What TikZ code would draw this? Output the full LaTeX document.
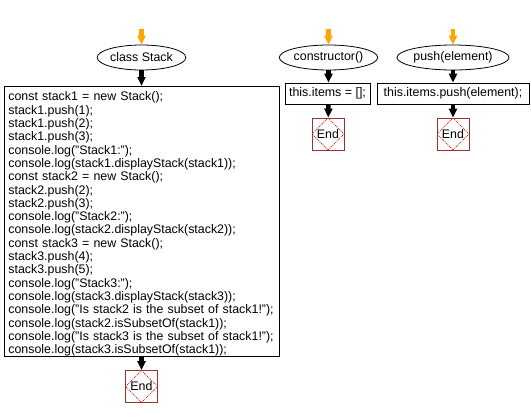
\documentclass[tikz,border=0pt]{standalone}
\usepackage{fontspec}
\setmainfont{Liberation Sans}
\usetikzlibrary{shapes.geometric,arrows.meta}
\definecolor{endred}{HTML}{A03030}
\definecolor{diamred}{HTML}{C83030}
\definecolor{startorange}{HTML}{FFA500}
\tikzset{
  every node/.style={font=\fontsize{12.4}{13.3}\selectfont},
  term/.style={ellipse, draw, line width=0.8pt, minimum height=25, inner sep=0},
  proc/.style={rectangle, draw, line width=0.8pt, minimum height=21, inner sep=0},
  codebox/.style={rectangle, draw, line width=0.8pt, align=left, text width=267, inner xsep=4, inner ysep=0.5, anchor=north west},
  endbox/.style={rectangle, draw=endred, line width=0.9pt, minimum size=32, inner sep=0,
    path picture={\draw[diamred, line width=0.8pt, dash pattern=on 1pt off 1pt] (path picture bounding box.north) -- (path picture bounding box.east) -- (path picture bounding box.south) -- (path picture bounding box.west) -- cycle;}},
  flow/.style={line width=4.5pt, -{Triangle[length=9pt,width=8pt]}},
  startflow/.style={startorange, line width=4.5pt, -{Triangle[length=9pt,width=8pt]}},
}
\begin{document}
\begin{tikzpicture}[x=1pt,y=-1pt]
\useasboundingbox (0,0) rectangle (531,418);
% column 1
\coordinate (s1) at (141.5,29);
\node[term, minimum width=78] (c1) at (141.5,57.5) {class Stack};
\node[codebox] (main) at (4,86) {\rule{0pt}{14pt}const stack1 = new Stack();\\
stack1.push(1);\\
stack1.push(2);\\
stack1.push(3);\\
console.log("Stack1:");\\
console.log(stack1.displayStack(stack1));\\
const stack2 = new Stack();\\
stack2.push(2);\\
stack2.push(3);\\
console.log("Stack2:");\\
console.log(stack2.displayStack(stack2));\\
const stack3 = new Stack();\\
stack3.push(4);\\
stack3.push(5);\\
console.log("Stack3:");\\
console.log(stack3.displayStack(stack3));\\
console.log("Is stack2 is the subset of stack1!");\\
console.log(stack2.isSubsetOf(stack1));\\
console.log("Is stack3 is the subset of stack1!");\\
console.log(stack3.isSubsetOf(stack1));};
\node[endbox] (e1) at (141.5,386.5) {End};
\draw[startflow] (s1) -- (c1);
\draw[flow] (c1) -- (c1 |- main.north);
\draw[flow] (main.south -| e1) -- (e1);
% column 2
\coordinate (s2) at (328.5,29);
\node[term, minimum width=83] (c2) at (328.5,57.5) {constructor()};
\node[proc, minimum width=85] (p2) at (327.5,93.5) {this.items = [];};
\node[endbox] (e2) at (328,134) {End};
\draw[startflow] (s2) -- (c2);
\draw[flow] (c2) -- (c2 |- p2.north);
\draw[flow] (c2 |- p2.south) -- (e2);
% column 3
\coordinate (s3) at (453,29);
\node[term, minimum width=98] (c3) at (453,57.5) {push(element)};
\node[proc, minimum width=152] (p3) at (453,93.5) {this.items.push(element);};
\node[endbox] (e3) at (453,134) {End};
\draw[startflow] (s3) -- (c3);
\draw[flow] (c3) -- (p3);
\draw[flow] (p3) -- (e3);
\end{tikzpicture}
\end{document}
